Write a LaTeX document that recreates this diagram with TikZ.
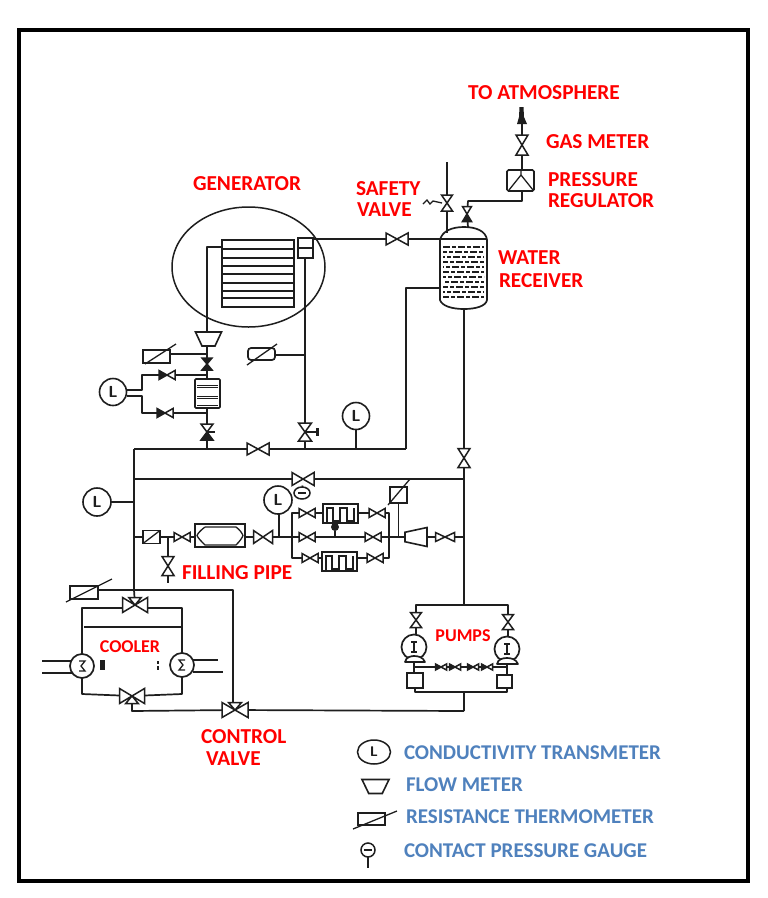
\documentclass[tikz,border=0pt]{standalone}
\usepackage{fontspec}
\setmainfont{Carlito}
\usetikzlibrary{shapes.geometric}
\definecolor{ink}{HTML}{1E1E1E}
\definecolor{legendblue}{HTML}{4F81BD}
\definecolor{labelred}{HTML}{FF0000}
\makeatletter
\pgfdeclareshape{bowtie}{%
  \inheritsavedanchors[from=rectangle]
  \inheritanchorborder[from=rectangle]
  \inheritanchor[from=rectangle]{center}
  \inheritanchor[from=rectangle]{north}
  \inheritanchor[from=rectangle]{south}
  \inheritanchor[from=rectangle]{east}
  \inheritanchor[from=rectangle]{west}
  \backgroundpath{%
    \southwest \pgf@xa=\pgf@x \pgf@ya=\pgf@y
    \northeast \pgf@xb=\pgf@x \pgf@yb=\pgf@y
    \pgfpathmoveto{\pgfqpoint{\pgf@xa}{\pgf@ya}}
    \pgfpathlineto{\pgfqpoint{\pgf@xb}{\pgf@yb}}
    \pgfpathlineto{\pgfqpoint{\pgf@xb}{\pgf@ya}}
    \pgfpathlineto{\pgfqpoint{\pgf@xa}{\pgf@yb}}
    \pgfpathclose}}
\pgfdeclareshape{halfbowtie}{%
  \inheritsavedanchors[from=rectangle]
  \inheritanchorborder[from=rectangle]
  \inheritanchor[from=rectangle]{center}
  \inheritanchor[from=rectangle]{north}
  \inheritanchor[from=rectangle]{south}
  \inheritanchor[from=rectangle]{east}
  \inheritanchor[from=rectangle]{west}
  \beforebackgroundpath{%
    \southwest \pgf@xa=\pgf@x \pgf@ya=\pgf@y
    \northeast \pgf@xb=\pgf@x \pgf@yb=\pgf@y
    \pgfsetfillcolor{ink}
    \pgfpathmoveto{\pgfqpoint{\pgf@xa}{\pgf@ya}}
    \pgfpathlineto{\pgfqpoint{\pgf@xa}{\pgf@yb}}
    \pgfpathlineto{\pgfpoint{0.5*(\pgf@xa+\pgf@xb)}{0.5*(\pgf@ya+\pgf@yb)}}
    \pgfpathclose
    \pgfusepath{fill}}
  \backgroundpath{%
    \southwest \pgf@xa=\pgf@x \pgf@ya=\pgf@y
    \northeast \pgf@xb=\pgf@x \pgf@yb=\pgf@y
    \pgfpathmoveto{\pgfqpoint{\pgf@xa}{\pgf@ya}}
    \pgfpathlineto{\pgfqpoint{\pgf@xb}{\pgf@yb}}
    \pgfpathlineto{\pgfqpoint{\pgf@xb}{\pgf@ya}}
    \pgfpathlineto{\pgfqpoint{\pgf@xa}{\pgf@yb}}
    \pgfpathclose}}
\pgfdeclareshape{threeway}{%
  \inheritsavedanchors[from=rectangle]
  \inheritanchorborder[from=rectangle]
  \inheritanchor[from=rectangle]{center}
  \inheritanchor[from=rectangle]{north}
  \inheritanchor[from=rectangle]{south}
  \inheritanchor[from=rectangle]{east}
  \inheritanchor[from=rectangle]{west}
  \backgroundpath{%
    \southwest \pgf@xa=\pgf@x \pgf@ya=\pgf@y
    \northeast \pgf@xb=\pgf@x \pgf@yb=\pgf@y
    \pgfpathmoveto{\pgfqpoint{\pgf@xa}{\pgf@ya}}
    \pgfpathlineto{\pgfqpoint{\pgf@xb}{\pgf@yb}}
    \pgfpathlineto{\pgfqpoint{\pgf@xb}{\pgf@ya}}
    \pgfpathlineto{\pgfqpoint{\pgf@xa}{\pgf@yb}}
    \pgfpathclose
    \pgfpathmoveto{\pgfpointorigin}
    \pgfpathlineto{\pgfqpoint{0.5\pgf@xb}{\pgf@yb}}
    \pgfpathlineto{\pgfqpoint{0.5\pgf@xa}{\pgf@yb}}
    \pgfpathclose}}
\pgfdeclareshape{flowtrap}{%
  \inheritsavedanchors[from=rectangle]
  \inheritanchorborder[from=rectangle]
  \inheritanchor[from=rectangle]{center}
  \inheritanchor[from=rectangle]{north}
  \inheritanchor[from=rectangle]{south}
  \inheritanchor[from=rectangle]{east}
  \inheritanchor[from=rectangle]{west}
  \backgroundpath{%
    \southwest \pgf@xa=\pgf@x \pgf@ya=\pgf@y
    \northeast \pgf@xb=\pgf@x \pgf@yb=\pgf@y
    \pgfpathmoveto{\pgfqpoint{\pgf@xa}{\pgf@yb}}
    \pgfpathlineto{\pgfqpoint{\pgf@xb}{\pgf@yb}}
    \pgfpathlineto{\pgfqpoint{0.5\pgf@xb}{\pgf@ya}}
    \pgfpathlineto{\pgfqpoint{0.5\pgf@xa}{\pgf@ya}}
    \pgfpathclose}}
\makeatother
\tikzset{
  pipe/.style={draw=ink,line width=1.7pt,line join=round},
  thin pipe/.style={draw=ink,line width=1.3pt},
  bow/.style={shape=bowtie,draw=ink,fill=white,line width=1.5pt,minimum width=22pt,minimum height=12pt,inner sep=0pt,outer sep=0pt},
  vbow/.style={bow,rotate=90,minimum width=19pt},
  sbow/.style={shape=halfbowtie,draw=ink,fill=white,line width=1.5pt,minimum width=16pt,minimum height=9pt,inner sep=0pt,outer sep=0pt},
  vsbow/.style={sbow,rotate=90,minimum width=15pt},
  obow/.style={bow,minimum width=16pt,minimum height=9pt},
  vobow/.style={obow,rotate=90,minimum width=15pt},
  dbow/.style={bow,fill=ink,rotate=90,minimum width=12pt,minimum height=10pt},
  tway/.style={shape=threeway,draw=ink,fill=white,line width=1.5pt,minimum width=25pt,minimum height=15pt,inner sep=0pt,outer sep=0pt},
  lcirc/.style={circle,draw=ink,fill=white,line width=1.6pt,minimum size=27pt,inner sep=0pt,outer sep=0pt,font=\sffamily\bfseries\fontsize{16}{16}\selectfont,text=ink},
  boxx/.style={rectangle,draw=ink,fill=white,line width=1.7pt,inner sep=0pt,outer sep=0pt},
  meter/.style={shape=flowtrap,draw=ink,fill=white,line width=1.6pt,minimum width=26pt,minimum height=14pt,inner sep=0pt,outer sep=0pt},
  gauge/.style={ellipse,draw=ink,fill=white,line width=1.5pt,minimum width=16pt,minimum height=12pt,inner sep=0pt,outer sep=0pt},
  pumpc/.style={circle,draw=ink,fill=white,line width=1.7pt,minimum size=24pt,inner sep=0pt,outer sep=0pt},
  redl/.style={text=labelred,font=\bfseries\fontsize{21.3}{23}\selectfont,inner sep=0pt,outer sep=0pt},
  redm/.style={text=labelred,font=\bfseries\fontsize{18}{20}\selectfont,inner sep=0pt,outer sep=0pt},
  bluel/.style={text=legendblue,font=\bfseries\fontsize{21}{23}\selectfont,inner sep=0pt,outer sep=0pt,anchor=west},
}
\begin{document}
\begin{tikzpicture}[x=1pt,y=-1pt]
\useasboundingbox (0,0) rectangle (768,898);
\fill[white] (0,0) rectangle (768,898);
\node[draw=black,line width=4pt,minimum width=729pt,minimum height=851pt,inner sep=0pt,outer sep=0pt] (frame) at (383.5,455.5) {};

%% ---- junctions
\coordinate (atm) at (522,124);
\coordinate (rA) at (522,201);
\coordinate (rB) at (468,201);
\coordinate (vTop) at (468,227);
\coordinate (sTop) at (447,162);
\coordinate (sBot) at (447,233);
\coordinate (vL) at (440,239);
\coordinate (vLo) at (440,288);
\coordinate (mC) at (406,288);
\coordinate (mR) at (406,449);
\coordinate (mL) at (134,449);
\coordinate (vBot) at (464,309);
\coordinate (rp) at (464,479);
\coordinate (rp2) at (464,537);
\coordinate (pTop) at (464,605);
\coordinate (pBot) at (464,692);
\coordinate (rb) at (464,711);
\coordinate (l2) at (134,479);
\coordinate (l3) at (134,502);
\coordinate (l4) at (134,537);
\coordinate (l5) at (134,590);
\coordinate (gL) at (207,247);
\coordinate (gLm) at (207,449);
\coordinate (gRm) at (305,449);
\coordinate (gRb) at (305,355);

%% ---- vessel
\draw[pipe,fill=white] (440,300) -- (440,240) .. controls (442,231) and (452,227) .. (464,227)
  .. controls (476,227) and (486,231) .. (487,240) -- (487,300)
  .. controls (486,306) and (476,309) .. (464,309) .. controls (452,309) and (442,306) .. (440,300) -- cycle;
\draw[pipe] (vL) -- (487,239);
\foreach \yy/\ph in {247/0,252/3,257/5,262/2,267/6,272/1,277/4,282/7,287/2,292/5,297/1}
  \draw[draw=ink,line width=1.3pt,dash pattern=on 7pt off 2pt on 4pt off 2pt,dash phase=\ph pt] (443,\yy) -- (484,\yy);

%% ---- top stack
\fill[ink] (519.5,107) -- (523.5,107) -- (524,117) -- (527,124) -- (517,124) -- (519,117) -- cycle;
\node[vbow,minimum height=12pt,minimum width=20pt] (gasv) at (522,145) {};
\node[boxx,minimum width=27pt,minimum height=21pt,rounded corners=1.5pt] (reg) at (520.5,180.5) {};
\draw[thin pipe] (509,190) -- (521,175) -- (533,190) (521,175) -- (521,171);
\node[vsbow] (smallv) at (467,214) {};
\node[vbow,minimum width=16pt,minimum height=11pt] (safv) at (447,203) {};
\draw[thin pipe] (423,204) -- (427,200) -- (430,204) -- (433,201) -- (442,203);

\draw[pipe] (atm) -- (gasv);
\draw[pipe] (gasv) -- (522,170);
\draw[pipe] (rA |- reg.south) -- (rA) -- (rB) -- (smallv);
\draw[pipe] (smallv) -- (vTop);
\draw[pipe] (sTop) -- (safv);
\draw[pipe] (safv) -- (sBot);

%% ---- generator
\node[ellipse,draw=ink,line width=1.5pt,minimum width=153pt,minimum height=120pt,inner sep=0pt,outer sep=0pt] (gen) at (248.5,267) {};
\node[boxx,minimum width=72pt,minimum height=67pt] (coil) at (258,273.5) {};
\foreach \yy in {249,258,266,274,283,291,298}
  \draw[thin pipe,line width=1.5pt] (222,\yy) -- (294,\yy);
\node[boxx,minimum width=15pt,minimum height=20pt] (head) at (305.5,248) {};
\draw[thin pipe] (head.west) -- (head.east);
\node[bow] (v1) at (397,239) {};
\draw[pipe] (head.east |- vL) -- (v1);
\draw[pipe] (v1) -- (vL);
\draw[pipe] (vLo) -- (mC) -- (mR);

%% ---- left branch under generator
\node[meter] (fm1) at (208.5,339) {};
\draw[pipe] (coil.west |- gL) -- (gL) -- (fm1.north -| gL);
\node[dbow] (v2) at (207,364) {};
\draw[pipe] (fm1.south -| gL) -- (v2);
\node[boxx,minimum width=27pt,minimum height=13pt] (th1) at (156.5,356.5) {};
\draw[thin pipe] (145,364) -- (176,344);
\coordinate (thJ) at (207,354);
\draw[pipe] (th1.east |- thJ) -- (thJ);
\node[boxx,minimum width=25pt,minimum height=29pt,rounded corners=1pt] (hx) at (207.5,393.5) {};
\foreach \yy in {385,387,396,398,405}
  \draw[thin pipe,line width=1pt] (197,\yy) -- (218,\yy);
\draw[pipe] (v2) -- (hx.north -| v2);
\node[lcirc] (L1) at (113,392) {L};
\coordinate (hxA) at (142,390);
\coordinate (hxB) at (142,396);
\coordinate (hxT) at (207,375);
\coordinate (hxU) at (207,413);
\node[sbow] (v3) at (167,375) {};
\node[sbow] (v4) at (165,413) {};
\draw[pipe] (L1.east |- hxA) -- (hxA) |- (v3);
\draw[pipe] (v3) -- (hxT);
\draw[pipe] (L1.east |- hxB) -- (hxB) |- (v4);
\draw[pipe] (v4) -- (hxU);
\node[vsbow,minimum height=12pt,minimum width=16pt] (v5) at (207,432) {};
\draw[thin pipe] (207,432) -- (215,432);
\draw[pipe] (hx.south -| v5) -- (v5);
\draw[pipe] (v5) -- (gLm);

%% ---- main horizontal + right branch under generator
\node[bow] (v6) at (258,449) {};
\draw[pipe] (mL) -- (v6);
\draw[pipe] (v6) -- (mR);
\node[vbow,minimum height=13pt,minimum width=18pt] (v7) at (305,432) {};
\draw[line width=1.5pt,draw=ink] (305,432) -- (316,432);
\fill[ink] (316,428) rectangle (319,436);
\draw[pipe] (head.south -| v7) -- (gRb) -- (v7);
\draw[pipe] (v7) -- (gRm);
\node[boxx,minimum width=27pt,minimum height=12pt,rounded corners=3pt] (th2) at (261.5,354) {};
\draw[thin pipe] (247,365) -- (277,344);
\draw[pipe] (th2.east |- gRb) -- (gRb);
\node[lcirc] (L2) at (356,416) {L};
\draw[pipe] (L2) -- (L2 |- gRm);

%% ---- right riser
\node[vbow] (v8) at (464,458) {};
\draw[pipe] (vBot) -- (v8);
\draw[pipe] (v8) -- (pTop);

%% ---- second horizontal
\node[bow,minimum height=13pt] (v9) at (303,479) {};
\node[gauge] (cpg) at (302,493) {};
\draw[thin pipe] (298,493) -- (306,493);
\draw[pipe] (v9) -- (cpg);
\draw[pipe] (l2) -- (v9);
\draw[pipe] (v9) -- (rp);
\draw[pipe] (mL) -- (l5);
\node[lcirc,minimum size=28pt] (L3) at (97,502) {L};
\draw[pipe] (L3) -- (l3);

%% ---- middle run
\node[boxx,minimum width=17pt,minimum height=13pt] (b1) at (151.5,537) {};
\draw[thin pipe] (b1.south west) -- (b1.north east);
\draw[pipe] (l4) -- (b1);
\node[obow] (v10) at (182,537) {};
\coordinate (fp) at (168,537);
\coordinate (fpEnd) at (168,583);
\node[vbow] (v11) at (168,566) {};
\draw[pipe] (fp) -- (v11);
\draw[pipe] (v11) -- (fpEnd);
\draw[pipe] (b1) -- (v10);
\node[boxx,minimum width=50pt,minimum height=23pt] (tank) at (220,535.5) {};
\draw[thin pipe] (205,527) -- (236,527) .. controls (240,530) and (242,533) .. (243,535.5) .. controls (242,538) and (240,541) .. (236,545) -- (205,545) .. controls (201,541) and (198,538) .. (197,535.5) .. controls (198,533) and (201,530) .. (205,527);
\draw[pipe] (v10) -- (v10 -| tank.west);
\node[obow,minimum width=19pt,minimum height=13pt] (v12) at (263,537) {};
\draw[pipe] (tank.east |- v12) -- (v12);
\coordinate (mfL) at (292,537);
\coordinate (mfR) at (389,537);
\coordinate (mfLt) at (292,513);
\coordinate (mfRt) at (389,513);
\coordinate (mfLb) at (292,558);
\coordinate (mfRb) at (389,558);
\coordinate (lst) at (279,537);
\draw[pipe] (v12) -- (mfL);
\node[lcirc,minimum size=28pt] (L4) at (278,500) {L};
\draw[pipe] (L4.south -| lst) -- (lst);
%% top leg
\node[obow] (v13) at (307,513) {};
\node[boxx,minimum width=35pt,minimum height=19pt] (fu) at (340.5,513.5) {};
\draw[thin pipe] (327,522) -- (327,508) -- (333,508) -- (333,521) -- (340,521) -- (340,508) -- (347,508) -- (347,521) -- (354,521) -- (354,508);
\node[obow] (v14) at (377,513) {};
\draw[pipe] (mfL) -- (mfLt) -- (v13);
\draw[pipe] (v13) -- (v13 -| fu.west);
\draw[pipe] (v14 -| fu.east) -- (v14);
\draw[pipe] (v14) -- (mfRt) -- (mfR);
%% middle leg
\node[obow] (v15) at (307,537) {};
\node[obow] (v16) at (373,537) {};
\draw[pipe] (mfL) -- (v15);
\draw[pipe] (v15) -- (v16);
\draw[pipe] (v16) -- (mfR);
\node[circle,fill=ink,minimum size=8pt,inner sep=0pt] (pg) at (335,527) {};
\draw[pipe] (pg) -- (335,537);
%% bottom leg
\node[obow] (v17) at (310,558) {};
\node[boxx,minimum width=35pt,minimum height=19pt] (fb) at (339.5,561.5) {};
\draw[thin pipe] (326,570) -- (326,556) -- (332,556) -- (332,569) -- (339,569) -- (339,556) -- (346,556) -- (346,569) -- (353,569) -- (353,556);
\node[obow] (v18) at (375,558) {};
\draw[pipe] (mfL) -- (mfLb) -- (v17);
\draw[pipe] (v17) -- (v17 -| fb.west);
\draw[pipe] (v18 -| fb.east) -- (v18);
\draw[pipe] (v18) -- (mfRb) -- (mfR);
%% right of manifold
\node[meter,rotate=-90,minimum width=19pt,minimum height=22pt] (fm2) at (416,537) {};
\draw[pipe] (mfR) -- (fm2);
\node[obow,minimum width=19pt] (v19) at (445,537) {};
\draw[pipe] (fm2) -- (v19);
\draw[pipe] (v19) -- (rp2);
\node[boxx,minimum width=17pt,minimum height=16pt] (b2) at (398.5,495) {};
\draw[thin pipe] (388,505) -- (410,479);
\draw[pipe] (b2.south) -- (b2.south |- mfR);

%% ---- cooler
\node[tway] (cv1) at (135,605) {};
\node[tway,rotate=180] (cv2) at (132,696) {};
\node[tway,minimum width=26pt] (cv3) at (235,710) {};
\coordinate (cML) at (84,627);
\coordinate (cMR) at (183,627);
\coordinate (cBL) at (84,694);
\coordinate (cBR) at (180,694);
\coordinate (cJ) at (233,590);
\node[pumpc] (p1) at (82,666) {};
\node[pumpc] (p2) at (182,665) {};
\draw[thin pipe] (79,661) -- (85,661) -- (81,666) -- (85,671) -- (79,671);
\draw[thin pipe] (185,660) -- (179,660) -- (183,665) -- (179,670) -- (185,670);
\draw[pipe] (l5) -- (cv1);
\draw[pipe] (122,608) -| (p1);
\draw[pipe] (148,608) -| (p2);
\draw[pipe] (cML) -- (cMR);
\draw[pipe] (p1) -- (p1 |- cBL) -- (cv2);
\draw[pipe] (p2) -- (p2 |- cBR) -- (cv2);
\draw[pipe] (cv2.north) -- (cv2.north |- rb) -- (cv3);
\draw[pipe] (cv3) -- (rb);
\draw[pipe] (l5) -- (cJ) -- (cv3.north -| cJ);
\node[boxx,minimum width=28pt,minimum height=13pt] (th3) at (84,592.5) {};
\draw[thin pipe] (66,602) -- (112,579);
\draw[pipe] (th3.east |- l5) -- (l5);
\draw[pipe] (42,661) -- (72,661);
\draw[pipe] (42,673) -- (72,673);
\draw[pipe] (193,660) -- (218,660);
\draw[pipe] (193,672) -- (223,672);
\fill[ink] (100,660) rectangle (105,670);
\fill[ink] (157,661) rectangle (159,664);
\fill[ink] (157,666) rectangle (159,670);

%% ---- pumps
\coordinate (pL) at (416,605);
\coordinate (pR) at (508,605);
\coordinate (pLb) at (415,692);
\coordinate (pRb) at (507,692);
\node[vobow,minimum height=11pt] (v20) at (416,620) {};
\node[vobow,minimum height=11pt] (v21) at (508,622) {};
\node[pumpc,minimum size=25pt] (pu1) at (414,647) {};
\node[pumpc,minimum size=25pt] (pu2) at (507,649) {};
\draw[line width=2pt,draw=ink] (411,642) -- (417,642) (414,642) -- (414,652) (411,652) -- (417,652);
\draw[line width=2pt,draw=ink] (504,644) -- (510,644) (507,644) -- (507,654) (504,654) -- (510,654);
\draw[pipe,fill=white] (405,662) .. controls (406,657) and (411,656) .. (414,656) .. controls (418,656) and (423,657) .. (425,662) -- cycle;
\draw[pipe,fill=white] (497,664) .. controls (498,659) and (503,658) .. (507,658) .. controls (511,658) and (516,659) .. (518,664) -- cycle;
\node[boxx,minimum width=16pt,minimum height=15pt] (bx1) at (415,680.5) {};
\node[boxx,minimum width=15pt,minimum height=13pt] (bx2) at (504.5,681.5) {};
\draw[pipe] (pTop) -- (pL) -- (v20);
\draw[pipe] (pTop) -- (pR) -- (v21);
\draw[pipe] (v20) -- (pu1.north -| v20);
\draw[pipe] (v21) -- (pu2.north -| v21);
\draw[pipe] (bx1.south -| pLb) -- (pLb) -- (pRb) -- (bx2.south -| pRb);
\draw[pipe] (pBot) -- (rb);
\node[sbow,minimum width=11pt,minimum height=6pt] (pv1) at (441,667) {};
\node[sbow,minimum width=11pt,minimum height=6pt] (pv2) at (455,667) {};
\node[sbow,minimum width=11pt,minimum height=6pt] (pv3) at (473,667) {};
\node[sbow,minimum width=11pt,minimum height=6pt] (pv4) at (487,667) {};
\draw[pipe] (414,667) -- (pv1);
\draw[pipe] (pv1) -- (pv2);
\draw[pipe] (pv2) -- (pv3);
\draw[pipe] (pv3) -- (pv4);
\draw[pipe] (pv4) -- (507,667);
\draw[pipe] (414,662) -- (bx1.north -| 414,662);
\draw[pipe] (507,664) -- (bx2.north -| 507,664);

%% ---- red labels
\node[redl] (tAtm) at (544,93) {TO ATMOSPHERE};
\node[redl,anchor=west] (tGas) at (546,142) {GAS METER};
\node[redl,anchor=west] (tPr1) at (548,180) {PRESSURE};
\node[redl,anchor=west] (tPr2) at (548,201) {REGULATOR};
\node[redl] (tGen) at (247,184) {GENERATOR};
\node[redl,anchor=west] (tSaf1) at (356,189) {SAFETY};
\node[redl,anchor=west] (tSaf2) at (357,210) {VALVE};
\node[redl,anchor=west] (tWat) at (498,258) {WATER};
\node[redl,anchor=west] (tRec) at (499,281) {RECEIVER};
\node[redl,anchor=west] (tFill) at (182,573) {FILLING PIPE};
\node[redm] (tCool) at (130,647) {COOLER};
\node[redm] (tPump) at (463,636) {PUMPS};
\node[redl,anchor=west] (tCtl) at (201,737) {CONTROL};
\node[redl,anchor=west] (tVal) at (206,759) {VALVE};

%% ---- legend
\node[ellipse,draw=ink,line width=1.5pt,minimum width=33pt,minimum height=24pt,inner sep=0pt,font=\sffamily\bfseries\fontsize{14}{14}\selectfont,text=ink] (leg1) at (374,752) {L};
\node[meter,minimum width=27pt,minimum height=14pt] (leg2) at (375.5,786.5) {};
\node[boxx,minimum width=27pt,minimum height=12pt] (leg3) at (371.5,819) {};
\draw[thin pipe] (353,829) -- (397,811);
\node[gauge,minimum width=14pt,minimum height=14pt] (leg4) at (368,850) {};
\draw[thin pipe] (364,850) -- (372,850);
\draw[pipe] (leg4) -- (368,868);
\node[bluel] (t1) at (404,753) {CONDUCTIVITY TRANSMETER};
\node[bluel] (t2) at (406,785) {FLOW METER};
\node[bluel] (t3) at (406,817) {RESISTANCE THERMOMETER};
\node[bluel] (t4) at (404,851) {CONTACT PRESSURE GAUGE};
\end{tikzpicture}
\end{document}
